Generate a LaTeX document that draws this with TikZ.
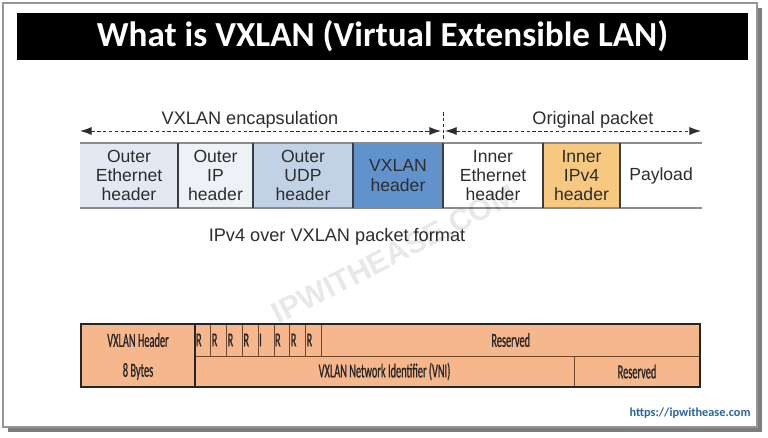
\documentclass[tikz,border=0pt]{standalone}
\usepackage{fontspec}
\setmainfont{Liberation Sans}
\newfontfamily\titlefont{Carlito}
\newfontfamily\condfont{Carlito}[FakeStretch=0.52,FakeBold=0.8]
\usetikzlibrary{arrows.meta,positioning}
\definecolor{framegray}{RGB}{150,150,150}
\definecolor{shadowgray}{RGB}{125,125,125}
\definecolor{rulegray}{RGB}{140,140,140}
\definecolor{divgray}{RGB}{60,60,60}
\definecolor{textgray}{RGB}{45,45,45}
\definecolor{ethfill}{RGB}{226,233,242}
\definecolor{ipfill}{RGB}{238,242,247}
\definecolor{udpfill}{RGB}{194,210,230}
\definecolor{vxfill}{RGB}{98,146,204}
\definecolor{ipvfill}{RGB}{246,200,128}
\definecolor{hdrfill}{RGB}{246,183,140}
\definecolor{hdredge}{RGB}{110,70,40}
\definecolor{urlblue}{RGB}{40,100,160}
\tikzset{
  titlebar/.style={fill=black,text=white,minimum width=21.93cm,minimum height=1.41cm,
                   inner sep=0pt,font={\titlefont\bfseries\fontsize{30pt}{32pt}\selectfont}},
  field/.style={fill=#1,inner sep=0pt,outer sep=0pt,minimum height=1.95cm,align=center,
                text=textgray,font=\fontsize{15pt}{16.4pt}\selectfont},
  rule/.style={rulegray,line width=1.4pt},
  divider/.style={divgray,line width=1pt},
  spanarrow/.style={textgray,dash pattern=on 3pt off 2pt,line width=0.8pt,
                    {Latex[length=10pt,width=7pt]}-{Latex[length=10pt,width=7pt]}},
  lbl/.style={text=textgray,font=\fontsize{15.5pt}{17pt}\selectfont},
  hdrcell/.style={fill=hdrfill,inner sep=0pt,outer sep=0pt,text=black!85,
                  font={\condfont\fontsize{17pt}{19pt}\selectfont}},
  bitcell/.style={hdrcell,draw=hdredge,line width=0.6pt,minimum height=0.96cm,
                  text width=0.414cm,inner xsep=0.3mm,align=left},
  tableedge/.style={black!85,line width=1.5pt},
  watermark/.style={text=black,text opacity=0.09,rotate=27,
                    font=\bfseries\fontsize{26pt}{28pt}\selectfont},
  url/.style={text=urlblue,font={\titlefont\bfseries\fontsize{10.5pt}{12pt}\selectfont}}
}
\begin{document}
\begin{tikzpicture}[x=0.03cm,y=-0.03cm]
  \useasboundingbox (0,0) rectangle (768,437);
  % Slide frame with drop shadow and the title bar.
  \fill[shadowgray] (8,8) rectangle (762,432);
  \draw[framegray,fill=white,line width=1pt] (3,3) rectangle (757,427);
  \node[titlebar] (title) at (382.5,36.5) {What is VXLAN (Virtual Extensible LAN)};

  % IPv4 over VXLAN packet format.
  \node[field=ethfill,minimum width=2.94cm] (oeth) at (129,175.5) {Outer\\Ethernet\\header};
  \node[field=ipfill,minimum width=2.25cm,right=0pt of oeth] (oip) {Outer\\IP\\header};
  \node[field=udpfill,minimum width=3.0cm,right=0pt of oip] (oudp) {Outer\\UDP\\header};
  \node[field=vxfill,minimum width=2.7cm,right=0pt of oudp] (vxh) {VXLAN\\header};
  \node[field=white,minimum width=3.0cm,right=0pt of vxh] (ieth) {Inner\\Ethernet\\header};
  \node[field=ipvfill,minimum width=2.31cm,right=0pt of ieth] (iip) {Inner\\IPv4\\header};
  \node[field=white,minimum width=2.46cm,right=0pt of iip] (pay) {Payload};
  \draw[rule] (oeth.north west) -- (pay.north east);
  \draw[rule] (oeth.south west) -- (pay.south east);
  \foreach \f in {oeth,oip,oudp,vxh,ieth,iip} {\draw[divider] (\f.north east)--(\f.south east);}
  \node[lbl] (fmt) at (337,237) {IPv4 over VXLAN packet format};

  % Extents of the encapsulation and of the original packet.
  \coordinate (encL) at (80,131);
  \coordinate (encR) at (441,131);
  \coordinate (origL) at (445,131);
  \coordinate (origR) at (701,131);
  \coordinate (splitT) at (443,112);
  \coordinate (splitB) at (443,141);
  \draw[spanarrow] (encL) -- (encR);
  \draw[spanarrow] (origL) -- (origR);
  \draw[textgray,dash pattern=on 3pt off 2pt,line width=0.8pt] (splitT) -- (splitB);
  \node[lbl] (enc) at (250,120) {VXLAN encapsulation};
  \node[lbl] (orig) at (593,120) {Original packet};

  % VXLAN header layout.
  \node[hdrcell,minimum width=3.42cm,minimum height=0.96cm] (hdrname) at (138,340) {VXLAN Header};
  \node[hdrcell,minimum width=3.42cm,minimum height=0.93cm] (hdrsize) at (138,371.5) {8 Bytes};
  \foreach [count=\i] \b in {R,R,R,R,I,R,R,R}
    \node[bitcell] (bit\i) at ({195+15.8*(\i-0.5)},340) {\b};
  \node[hdrcell,draw=hdredge,line width=0.6pt,minimum width=11.358cm,minimum height=0.96cm,
        right=0pt of bit8] (resv1) {Reserved};
  \node[hdrcell,draw=hdredge,line width=0.6pt,minimum width=11.37cm,minimum height=0.93cm]
        (vni) at (384.5,371.5) {VXLAN Network Identifier (VNI)};
  \node[hdrcell,draw=hdredge,line width=0.6pt,minimum width=3.78cm,minimum height=0.93cm,
        right=0pt of vni] (resv2) {Reserved};
  \draw[tableedge] (hdrname.north west) rectangle (resv2.south east);
  \draw[tableedge] (hdrname.north east) -- (hdrsize.south east);

  % Watermark and source.
  \node[watermark] (mark) at (394,254) {IPWITHEASE.COM};
  \node[url] (src) at (690,413) {https://ipwithease.com};
\end{tikzpicture}
\end{document}
